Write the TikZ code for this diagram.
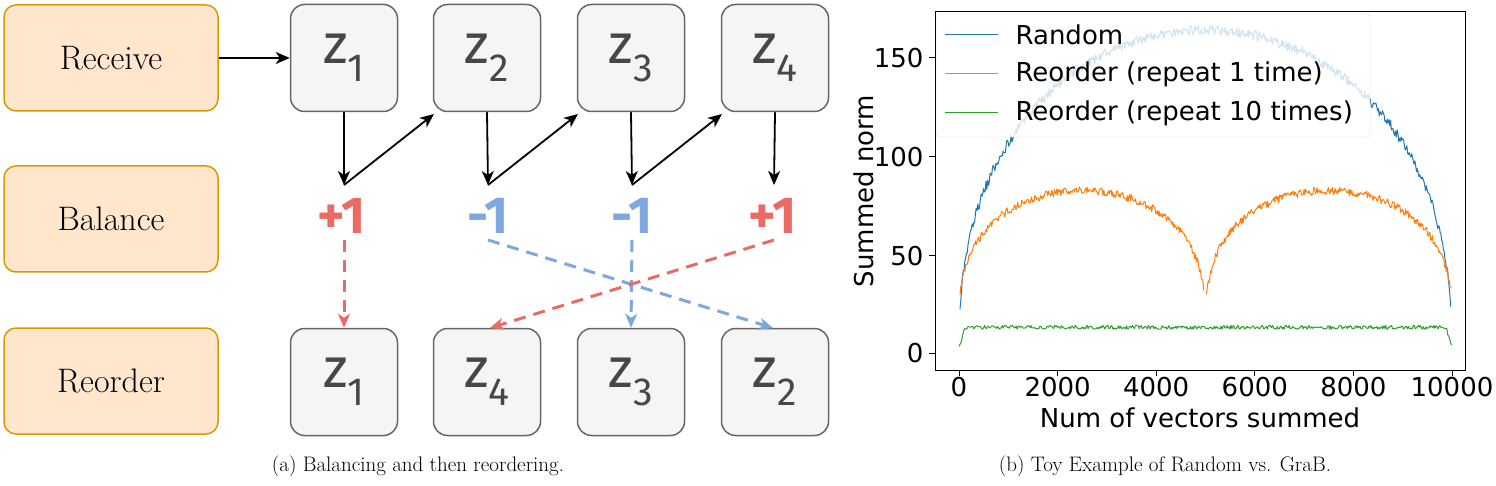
\documentclass[tikz,border=0pt]{standalone}
\usepackage{fontspec}
\newfontfamily\plotfont{DejaVu Sans}
\newfontfamily\zfont{Fira Sans}
\usetikzlibrary{arrows.meta}
\definecolor{ofill}{HTML}{FFE6CC}
\definecolor{oline}{HTML}{D79B00}
\definecolor{gfill}{HTML}{F5F5F5}
\definecolor{gline}{HTML}{666666}
\definecolor{myred}{HTML}{EA6B66}
\definecolor{myblue}{HTML}{7EA6E0}
\definecolor{mplblue}{HTML}{1F77B4}
\definecolor{mplorange}{HTML}{FF7F0E}
\definecolor{mplgreen}{HTML}{2CA02C}
\begin{document}
\begin{tikzpicture}[x=1pt,y=-1pt,
  stage/.style={draw=oline,fill=ofill,rounded corners=12pt,minimum width=214pt,minimum height=106pt,font=\fontsize{34}{38}\selectfont,line width=1.5pt},
  zbox/.style={draw=gline,fill=gfill,rounded corners=14pt,minimum width=107pt,minimum height=107pt,font=\zfont\fontsize{56}{60}\selectfont,text=black!72,line width=1.5pt},
  arr/.style={-{Stealth[length=14pt,width=12pt,inset=4pt]},line width=1.8pt},
  dsh/.style={arr,dash pattern=on 12pt off 8pt,line width=3pt},
  sign/.style={font=\zfont\bfseries\fontsize{52}{56}\selectfont},
  tick/.style={font=\plotfont\fontsize{26}{28}\selectfont}]
\useasboundingbox (0,0) rectangle (1496,486);
\node[stage] (rec) at (111,58) {Receive};
\node[stage] (bal) at (111,219) {Balance};
\node[stage] (reo) at (111,381) {Reorder};
\node[zbox] (t1) at (344,58) {z\textsubscript{1}};
\node[zbox] (t2) at (487,58) {z\textsubscript{2}};
\node[zbox] (t3) at (631,58) {z\textsubscript{3}};
\node[zbox] (t4) at (775,58) {z\textsubscript{4}};
\node[zbox] (b1) at (344,382) {z\textsubscript{1}};
\node[zbox] (b2) at (487,382) {z\textsubscript{4}};
\node[zbox] (b3) at (631,382) {z\textsubscript{3}};
\node[zbox] (b4) at (775,382) {z\textsubscript{2}};
\coordinate (p1) at (344,185);\coordinate (p2) at (488,185);
\coordinate (p3) at (632,185);\coordinate (p4) at (774,185);
\node[sign,text=myred] (s1) at (342,216) {+1};
\node[sign,text=myblue] (s2) at (488,216) {-1};
\node[sign,text=myblue] (s3) at (632,216) {-1};
\node[sign,text=myred] (s4) at (773,216) {+1};
\draw[arr] (rec.east) -- (t1.west);
\draw[arr] (t1.south) -- (p1);
\draw[arr] (t2.south) -- (p2);
\draw[arr] (t3.south) -- (p3);
\draw[arr] (t4.south) -- (p4);
\draw[arr] (p1) -- (434,114);
\draw[arr] (p2) -- (578,114);
\draw[arr] (p3) -- (722,114);
\draw[dsh,myred] (344,240) -- (b1.north);
\draw[dsh,myblue] (632,240) -- (b3.north);
\draw[dsh,myblue] (488,240) -- (773,328);
\draw[dsh,myred] (774,240) -- (490,328);
\node[font=\fontsize{21}{24}\selectfont] at (418,466) {(a) Balancing and then reordering.};
\node[font=\fontsize{21}{24}\selectfont] at (1165,466) {(b) Toy Example of Random vs. GraB.};
% plot
\pgfmathsetseed{7}
\draw[mplblue,line width=1pt,line join=round] plot[domain=0.002:0.998,samples=600] ({959+493*\x},{353-1.98*(163*(4*\x*(1-\x))^0.42+2.5*rand)});
\draw[mplorange,line width=1pt,line join=round] plot[domain=0.002:0.498,samples=300] ({959+493*\x},{353-1.98*(12+70*(4*(2*\x)*(1-2*\x))^0.35+2*rand)});
\draw[mplorange,line width=1pt,line join=round] plot[domain=0.502:0.998,samples=300] ({959+493*\x},{353-1.98*(12+70*(4*(2*\x-1)*(2-2*\x))^0.35+2*rand)});
\draw[mplgreen,line width=1pt,line join=round] plot[domain=0.0:1,samples=500] ({959+493*\x},{353-1.98*(3+10*min(1,\x*80)*min(1,(1-\x)*80)+1*rand)});
\draw[line width=1pt] (935,12) rectangle (1465,370);
\foreach \v/\y in {0/353,50/256,100/157,150/58}{
  \draw[line width=1pt] (935,\y) -- (929,\y);
  \node[tick,anchor=east] at (927,\y) {\v};}
\foreach \n in {0,2000,4000,6000,8000,10000}{
  \pgfmathsetmacro\xx{959+0.0493*\n}
  \draw[line width=1pt] (\xx,370) -- (\xx,376);
  \node[tick,anchor=north] at (\xx,374) {\n};}
\node[tick,rotate=90] at (864,191) {Summed norm};
\node[tick] at (1200,418) {Num of vectors summed};
\fill[white,opacity=0.8,rounded corners=3pt] (937,14) rectangle (1370,137);
\draw[black!15,rounded corners=3pt] (937,14) rectangle (1370,137);
\draw[mplblue,line width=1pt] (945,35) -- (998,35);
\draw[mplorange,line width=1pt] (945,74) -- (998,74);
\draw[mplgreen,line width=1pt] (945,113) -- (998,113);
\node[tick,anchor=west] at (1012,35) {Random};
\node[tick,anchor=west] at (1012,74) {Reorder (repeat 1 time)};
\node[tick,anchor=west] at (1012,113) {Reorder (repeat 10 times)};
\end{tikzpicture}
\end{document}
